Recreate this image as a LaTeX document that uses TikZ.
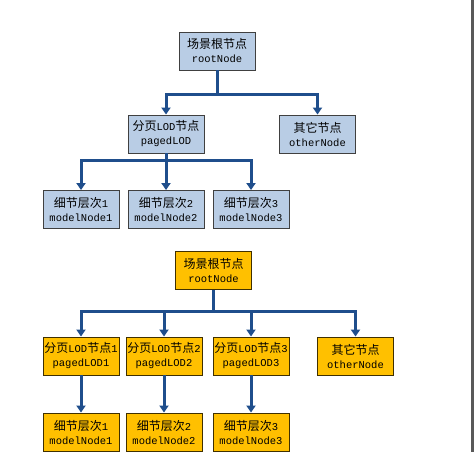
\documentclass[tikz,border=0pt]{standalone}
\usepackage{fontspec}
\setmonofont{Liberation Mono}
\newfontfamily\cjk{Noto Sans CJK SC}
\usetikzlibrary{arrows.meta}
\newcommand\zh[1]{{\cjk\fontsize{12}{14}\selectfont #1}}
\definecolor{bluebox}{HTML}{B9CDE5}
\definecolor{goldbox}{HTML}{FFC000}
\definecolor{conncol}{HTML}{1F4E8C}
\definecolor{boxline}{HTML}{404040}
\tikzset{
  box/.style={draw=boxline, line width=0.9pt, minimum width=76pt, minimum height=38pt,
    inner sep=0pt, align=center, font=\ttfamily\fontsize{10.5}{14}\selectfont},
  bluen/.style={box, fill=bluebox},
  goldn/.style={box, fill=goldbox, draw=black!75!goldbox},
  conn/.style={draw=conncol, line width=3pt, -{Triangle[length=7pt,width=9pt]}}
}
\begin{document}
\begin{tikzpicture}[x=1pt,y=-1pt]
\fill[white] (0,0) rectangle (474,452);
\useasboundingbox (0,0) rectangle (474,452);
\fill[black!65] (471,0) rectangle (474,452);
% top tree
\node[bluen] (r1) at (217,51) {\zh{场景根节点}\\rootNode};
\node[bluen] (pl) at (166,134) {\zh{分页}LOD\zh{节点}\\pagedLOD};
\node[bluen] (o1) at (317.5,134) {\zh{其它节点}\\otherNode};
\node[bluen] (ma1) at (81,209.5) {\zh{细节层次}1\\modelNode1};
\node[bluen] (ma2) at (166,209.5) {\zh{细节层次}2\\modelNode2};
\node[bluen] (ma3) at (251,209.5) {\zh{细节层次}3\\modelNode3};
\coordinate (b1) at (217,94);
\coordinate (b2) at (166,160);
\draw[conn] (r1.south) -- (b1) -| (pl.north);
\draw[conn] (r1.south) -- (b1) -| (o1.north);
\draw[conn] (pl.south) -- (b2) -| (ma1.north);
\draw[conn] (pl.south) -- (ma2.north);
\draw[conn] (pl.south) -- (b2) -| (ma3.north);
% bottom tree
\node[goldn] (r2) at (213.5,270.5) {\zh{场景根节点}\\rootNode};
\node[goldn] (p1) at (81,356) {\zh{分页}LOD\zh{节点}1\\pagedLOD1};
\node[goldn] (p2) at (164,356) {\zh{分页}LOD\zh{节点}2\\pagedLOD2};
\node[goldn] (p3) at (251,356) {\zh{分页}LOD\zh{节点}3\\pagedLOD3};
\node[goldn] (o2) at (355.5,356) {\zh{其它节点}\\otherNode};
\node[goldn] (mb1) at (81,432) {\zh{细节层次}1\\modelNode1};
\node[goldn] (mb2) at (164,432) {\zh{细节层次}2\\modelNode2};
\node[goldn] (mb3) at (251,432) {\zh{细节层次}3\\modelNode3};
\coordinate (b3) at (213.5,311);
\draw[conn] (r2.south) -- (b3) -| (p1.north);
\draw[conn] (r2.south) -- (b3) -| (p2.north);
\draw[conn] (r2.south) -- (b3) -| (p3.north);
\draw[conn] (r2.south) -- (b3) -| (o2.north);
\draw[conn] (p1.south) -- (mb1.north);
\draw[conn] (p2.south) -- (mb2.north);
\draw[conn] (p3.south) -- (mb3.north);
\end{tikzpicture}
\end{document}
